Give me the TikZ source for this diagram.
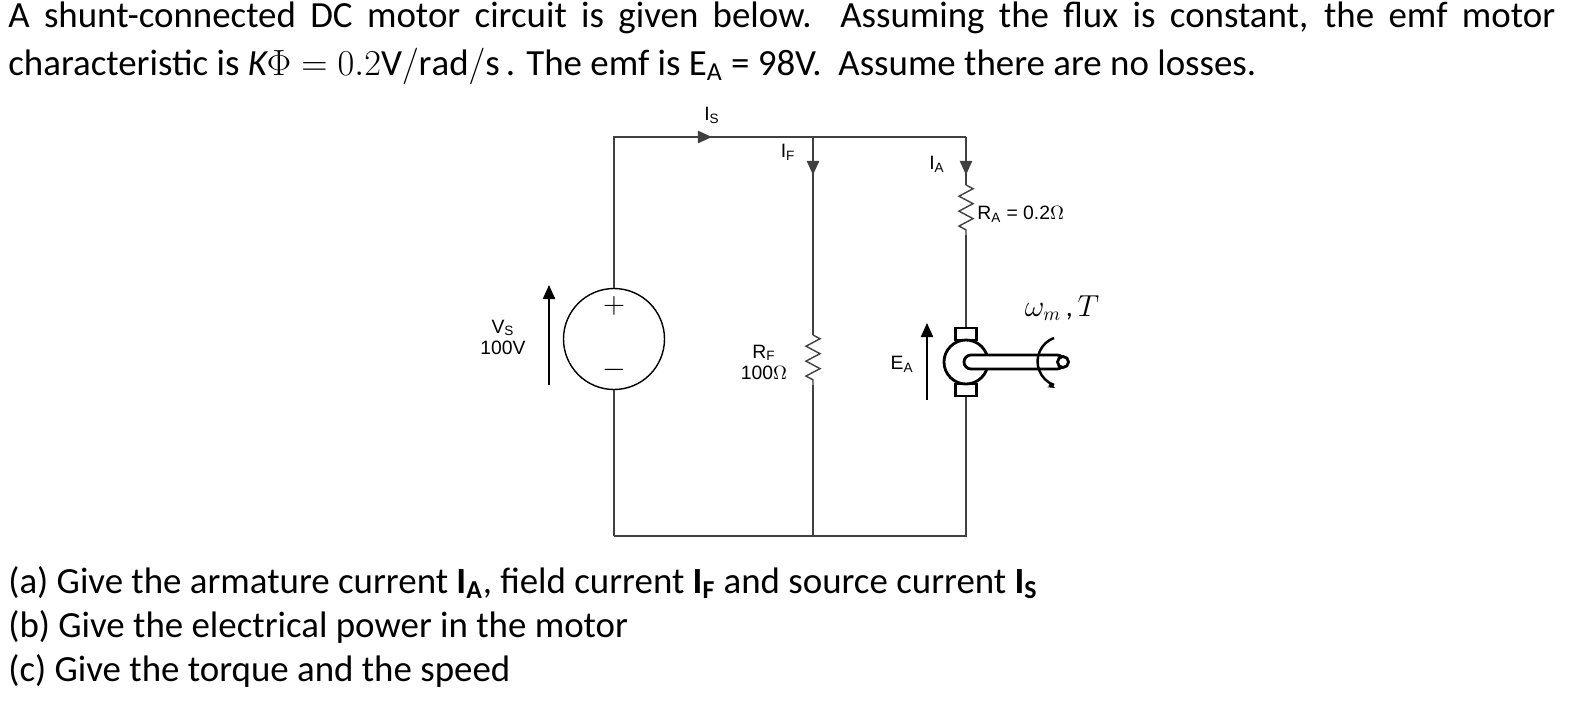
\documentclass[tikz,border=0pt]{standalone}
\usepackage{fontspec}
\setmainfont{Carlito}
\newfontfamily\arial{Liberation Sans}
\newfontfamily\tms{Liberation Serif}
\usetikzlibrary{decorations.pathmorphing,arrows.meta}
\begin{document}
\begin{tikzpicture}[x=0.02cm,y=-0.02cm,
  w/.style={line width=0.8pt,draw=black!75},
  lab/.style={font=\arial\fontsize{11}{12}\selectfont,inner sep=0pt},
  res/.style={w,decorate,decoration={zigzag,segment length=8.5pt,amplitude=4pt}},
  tip/.style={-{Triangle[length=8pt,width=7pt]}},
  txt/.style={font=\fontsize{21}{27}\selectfont,inner sep=0pt,anchor=north west}]
\useasboundingbox (0,0) rectangle (1580,707);
\node[txt,text width=1547*0.02cm,align=justify] (t1) at (8,2) {A shunt-connected DC motor circuit is given below.\ \ Assuming the flux is constant, the emf motor\linebreak characteristic is {\tms$\mathit{K}\Phi = 0.2\mathrm{V/rad/s}$}\,. The emf is E\textsubscript{A} = 98V.\ \ Assume there are no losses.};
\node[txt,align=left,font=\fontsize{21}{25}\selectfont] (t2) at (8,566) {(a) Give the armature current \textbf{I\textsubscript{A}}, field current \textbf{I\textsubscript{F}} and source current \textbf{I\textsubscript{S}}\\(b) Give the electrical power in the motor\\(c) Give the torque and the speed};
% nodes
\coordinate (tl) at (614,137); \coordinate (tm) at (813,137); \coordinate (tr) at (966,137);
\coordinate (bl) at (614,536); \coordinate (bm) at (813,536); \coordinate (br) at (966,536);
\node[circle,draw,line width=0.8pt,minimum size=101*0.02cm,inner sep=0pt] (vs) at (614,339) {};
\node[font=\fontsize{16}{16}\selectfont,inner sep=0pt] (plus) at (614,306) {$+$};
\node[font=\fontsize{16}{16}\selectfont,inner sep=0pt] (minus) at (614,370) {$-$};
\coordinate (rf1) at (813,335); \coordinate (rf2) at (813,385);
\coordinate (ra1) at (966,185); \coordinate (ra2) at (966,235);
\node[circle,draw,line width=1.6pt,minimum size=44*0.02cm,inner sep=0pt] (m) at (966,362) {};
\node[draw,line width=1.6pt,minimum width=21*0.02cm,minimum height=12*0.02cm,inner sep=0pt] (bt) at (966,334) {};
\node[draw,line width=1.6pt,minimum width=21*0.02cm,minimum height=12*0.02cm,inner sep=0pt] (bb) at (966,390) {};
\node[draw,line width=1.6pt,rounded corners=7*0.02cm,minimum width=100*0.02cm,minimum height=14*0.02cm,inner sep=0pt,fill=white] (shaft) at (1014,362) {};
\node[circle,draw,line width=1.6pt,minimum size=11*0.02cm,inner sep=0pt,fill=white] (end) at (1063,362) {};
% wires
\draw[w] (bl) -- (vs.south); \draw[w] (vs.north) -- (tl) -- (tr);
\draw[w] (tm) -- (rf1); \draw[res] (rf1) -- (rf2); \draw[w] (rf2) -- (bm);
\draw[w] (tr) -- (ra1); \draw[res] (ra1) -- (ra2); \draw[w] (ra2) -- (bt.north);
\draw[w] (bb.south) -- (br) -- (bl);
\draw[line width=1.4pt] (1054,338) arc[start angle=110,end angle=250,radius=25*0.02cm];
\draw[line width=1.4pt,-{Stealth[length=4pt]}] (1049,385) -- (1055,388);
% arrows
\draw[w,tip] (680,137) -- (712,137);
\draw[w,tip] (813,150) -- (813,175);
\draw[w,tip] (966,150) -- (966,175);
\draw[line width=0.8pt,tip] (549,385) -- (549,285);
\draw[line width=0.8pt,tip] (927,400) -- (927,323);
% labels
\node[lab] (is) at (712,115) {I\textsubscript{S}};
\node[lab] (if) at (788,152) {I\textsubscript{F}};
\node[lab] (ia) at (937,164) {I\textsubscript{A}};
\node[lab,anchor=west] (ral) at (977,214) {R\textsubscript{A} = 0.2$\Omega$};
\node[lab,align=center] (vsl) at (503,337) {V\textsubscript{S}\\100V};
\node[lab,align=center] (rfl) at (764,362) {R\textsubscript{F}\\100$\Omega$};
\node[lab] (eal) at (902,364) {E\textsubscript{A}};
\node[font=\fontsize{16}{16}\selectfont,inner sep=0pt] (wt) at (1062,308) {$\omega_m$\,,\,$T$};
\end{tikzpicture}
\end{document}
